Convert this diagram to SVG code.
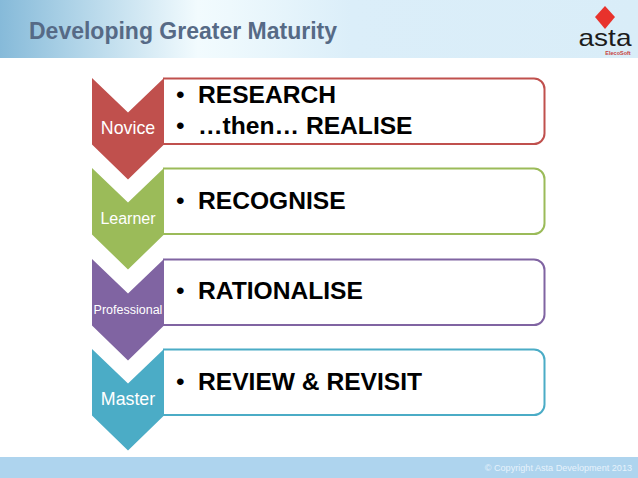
<svg xmlns="http://www.w3.org/2000/svg" width="638" height="478" viewBox="0 0 638 478">
<defs>
<linearGradient id="hdr" x1="0" y1="0" x2="1" y2="0">
<stop offset="0" stop-color="#86bad9"/><stop offset="0.12" stop-color="#b0d4e8"/><stop offset="0.31" stop-color="#f2fbfe"/><stop offset="0.36" stop-color="#eef9fd"/><stop offset="0.55" stop-color="#dbeef9"/><stop offset="1" stop-color="#d9edf8"/>
</linearGradient>
<path id="chev" d="M0 0L36 34.500L72 0V66.500L36 101.500L0 66.500Z"/>
<path id="box" d="M71 0.500H442A10.500 10.500 0 0 1 452.500 11V55.500A10.500 10.500 0 0 1 442 66H71"/>
</defs>
<style>
.t{font-family:"Liberation Sans",Arial,sans-serif}
.l{fill:#fff;font-size:17.800px;text-anchor:middle}
.b{fill:#000;font-size:24.600px;font-weight:700}
.d{fill:#000;font-size:24.600px}
.box{fill:#fff;stroke-width:2}
</style>
<rect width="638" height="478" fill="#fff"/>
<rect id="header" width="638" height="58" fill="url(#hdr)"/>
<text class="t" x="29" y="39" font-size="23" font-weight="700" fill="#566a86">Developing Greater Maturity</text>
<g id="logo">
<path d="M605 6L615 17L605 29L595 17Z" fill="#e8322c"/>
<text class="t" x="605" y="45.500" font-size="24" fill="#1c1c1c" text-anchor="middle" textLength="53" lengthAdjust="spacingAndGlyphs">asta</text>
<text class="t" x="618" y="55" font-size="5.500" font-weight="700" fill="#c8403a" text-anchor="middle">ElecoSoft</text>
</g>
<rect id="footer" y="457" width="638" height="21" fill="#aed4ee"/>
<text class="t" x="632" y="471" font-size="9.100" fill="#e6f2fb" text-anchor="end">© Copyright Asta Development 2013</text>
<g id="novice" transform="translate(92 78)">
<use href="#box" class="box" stroke="#c0504d"/>
<use href="#chev" fill="#c0504d"/>
<text class="t l" x="36" y="55.500">Novice</text>
<text class="t d" x="84" y="25">•</text><text class="t b" x="106" y="25">RESEARCH</text>
<text class="t d" x="84" y="55.500">•</text><text class="t b" x="106" y="55.500">…then… REALISE</text>
</g>
<g id="learner" transform="translate(92 168)">
<use href="#box" class="box" stroke="#9bbb59"/>
<use href="#chev" fill="#9bbb59"/>
<text class="t l" x="36" y="56" style="font-size:16px">Learner</text>
<text class="t d" x="84" y="41">•</text><text class="t b" x="106" y="41">RECOGNISE</text>
</g>
<g id="professional" transform="translate(92 259)">
<use href="#box" class="box" stroke="#8064a2"/>
<use href="#chev" fill="#8064a2"/>
<text class="t l" x="36" y="55" style="font-size:12.500px">Professional</text>
<text class="t d" x="84" y="40">•</text><text class="t b" x="106" y="40">RATIONALISE</text>
</g>
<g id="master" transform="translate(92 349)">
<use href="#box" class="box" stroke="#4bacc6"/>
<use href="#chev" fill="#4bacc6"/>
<text class="t l" x="36" y="56">Master</text>
<text class="t d" x="84" y="41">•</text><text class="t b" x="106" y="41">REVIEW &amp; REVISIT</text>
</g>
<g id="connectors"/>
</svg>
